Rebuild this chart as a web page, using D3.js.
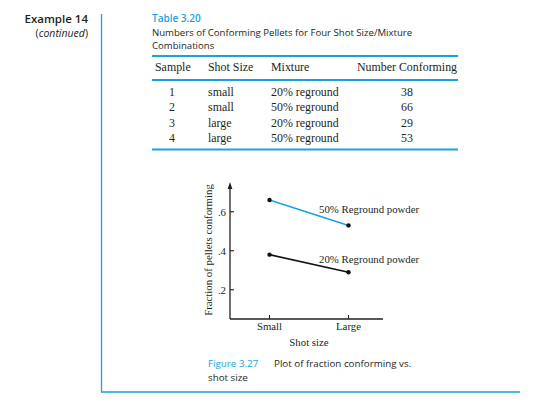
<!DOCTYPE html>
<html>
<head>
<meta charset="utf-8">
<script src="https://cdn.jsdelivr.net/npm/d3@7"></script>
<style>
  html, body { margin: 0; padding: 0; background: #fff; }
  svg { display: block; }
  .sans { font-family: "Open Sans", "Noto Sans", sans-serif; }
  .serif { font-family: "Liberation Serif", "DejaVu Serif", serif; }
</style>
</head>
<body>
<svg id="page" width="534" height="412"></svg>
<script>
  // table contents
  const samples = ["1", "2", "3", "4"];
  const shotSizes = ["small", "small", "large", "large"];
  const mixtures = ["20% reground", "50% reground", "20% reground", "50% reground"];
  const conforming = [38, 66, 29, 53];
  const headers = ["Sample", "Shot Size", "Mixture", "Number Conforming"];

  // plot
  const sizeLabels = ["Small", "Large"];
  const series20 = [0.38, 0.29];
  const series50 = [0.66, 0.53];
  const yTicks = [0.2, 0.4, 0.6];

  const blue = "#1aa3e0";
  const ink = "#231f20";

  const svg = d3.select("#page");

  // left margin labels + frame
  svg.append("text").attr("class", "sans").attr("x", 88).attr("y", 23)
    .attr("text-anchor", "end").attr("font-size", 11.5).attr("font-weight", 600)
    .attr("fill", ink).text("Example 14");
  svg.append("text").attr("class", "sans").attr("x", 88).attr("y", 37)
    .attr("text-anchor", "end").attr("font-size", 10.5).attr("fill", ink)
    .html("(<tspan font-style='italic'>continued</tspan>)");
  svg.append("line").attr("x1", 101.5).attr("x2", 101.5).attr("y1", 14).attr("y2", 392.5)
    .attr("stroke", blue).attr("stroke-width", 1.3);
  svg.append("line").attr("x1", 101).attr("x2", 520).attr("y1", 392).attr("y2", 392)
    .attr("stroke", blue).attr("stroke-width", 1.3);

  // table caption
  svg.append("text").attr("class", "sans").attr("x", 152).attr("y", 22)
    .attr("font-size", 10).attr("font-weight", 600).attr("fill", blue).text("Table 3.20");
  svg.append("text").attr("class", "sans").attr("x", 152).attr("y", 36)
    .attr("font-size", 9.6).attr("fill", ink).text("Numbers of Conforming Pellets for Four Shot Size/Mixture");
  svg.append("text").attr("class", "sans").attr("x", 152).attr("y", 49)
    .attr("font-size", 9.6).attr("fill", ink).text("Combinations");

  // table rules
  [56, 80, 149.5].forEach((y) => {
    svg.append("line").attr("x1", 152).attr("x2", 458).attr("y1", y).attr("y2", y)
      .attr("stroke", blue).attr("stroke-width", 1.8);
  });

  const colX = [155, 208, 271, 357];
  const table = svg.append("g").attr("class", "serif").attr("font-size", 11.9).attr("fill", ink);
  table.selectAll("text.hdr").data(headers).join("text").attr("class", "hdr")
    .attr("x", (d, i) => colX[i]).attr("y", 71).text((d) => d);

  const rowY = d3.scalePoint().domain(samples).range([96, 142]);
  const rows = table.selectAll("g.row").data(samples).join("g").attr("class", "row")
    .attr("transform", (d) => `translate(0,${rowY(d)})`);
  rows.append("text").attr("x", 172).attr("text-anchor", "middle").text((d) => d);
  rows.append("text").attr("x", 208).text((d, i) => shotSizes[i]);
  rows.append("text").attr("x", 271).text((d, i) => mixtures[i]);
  rows.append("text").attr("x", 407).attr("text-anchor", "middle").text((d, i) => conforming[i]);

  // chart
  const x = d3.scalePoint().domain(sizeLabels).range([230, 388]).padding(0.5);
  const y = d3.scaleLinear().domain([0.05, 0.75]).range([319, 182.5]);
  const chart = svg.append("g");
  const fs = 10.8;

  // axes
  chart.append("line").attr("x1", 230).attr("x2", 383).attr("y1", y(0.05)).attr("y2", y(0.05))
    .attr("stroke", ink).attr("stroke-width", 1.3);
  chart.append("line").attr("x1", 230).attr("x2", 230).attr("y1", y(0.05)).attr("y2", 187)
    .attr("stroke", ink).attr("stroke-width", 1.3);
  chart.append("path").attr("d", "M230,182 L227.6,189 L232.4,189 Z").attr("fill", ink);

  chart.selectAll("line.yt").data(yTicks).join("line").attr("class", "yt")
    .attr("x1", 230).attr("x2", 234).attr("y1", (d) => y(d)).attr("y2", (d) => y(d))
    .attr("stroke", ink).attr("stroke-width", 1.1);
  chart.selectAll("text.yl").data(yTicks).join("text").attr("class", "yl serif")
    .attr("x", 226).attr("y", (d) => y(d) + 3.8).attr("text-anchor", "end")
    .attr("font-size", fs).attr("fill", ink).text((d) => d3.format(".1f")(d).replace(/^0/, ""));

  chart.selectAll("line.xt").data(sizeLabels).join("line").attr("class", "xt")
    .attr("x1", (d) => x(d)).attr("x2", (d) => x(d)).attr("y1", 319).attr("y2", 315)
    .attr("stroke", ink).attr("stroke-width", 1.1);
  chart.selectAll("text.xl").data(sizeLabels).join("text").attr("class", "xl serif")
    .attr("x", (d) => x(d)).attr("y", 330).attr("text-anchor", "middle")
    .attr("font-size", fs).attr("fill", ink).text((d) => d);

  chart.append("text").attr("class", "serif").attr("x", 309).attr("y", 346)
    .attr("text-anchor", "middle").attr("font-size", fs).attr("fill", ink).text("Shot size");
  chart.append("text").attr("class", "serif")
    .attr("transform", "translate(212,250) rotate(-90)").attr("text-anchor", "middle")
    .attr("font-size", fs).attr("fill", ink).text("Fraction of pellets conforming");

  const line = d3.line().x((d, i) => x(sizeLabels[i])).y((d) => y(d));
  [[series50, blue], [series20, "#111"]].forEach(([vals, col]) => {
    chart.append("path").datum(vals).attr("d", line).attr("fill", "none")
      .attr("stroke", col).attr("stroke-width", 1.6);
    chart.selectAll(null).data(vals).join("circle")
      .attr("cx", (d, i) => x(sizeLabels[i])).attr("cy", (d) => y(d)).attr("r", 2.2).attr("fill", "#111");
  });

  chart.append("text").attr("class", "serif").attr("x", 319).attr("y", 212.5)
    .attr("font-size", fs).attr("fill", ink).text("50% Reground powder");
  chart.append("text").attr("class", "serif").attr("x", 319).attr("y", 262.5)
    .attr("font-size", fs).attr("fill", ink).text("20% Reground powder");

  // figure caption
  svg.append("text").attr("class", "sans").attr("x", 208).attr("y", 366.5)
    .attr("font-size", 9.8).attr("fill", blue).text("Figure 3.27");
  svg.append("text").attr("class", "sans").attr("x", 274).attr("y", 366.5)
    .attr("font-size", 9.8).attr("fill", ink).text("Plot of fraction conforming vs.");
  svg.append("text").attr("class", "sans").attr("x", 208).attr("y", 380.5)
    .attr("font-size", 9.8).attr("fill", ink).text("shot size");
</script>
</body>
</html>
